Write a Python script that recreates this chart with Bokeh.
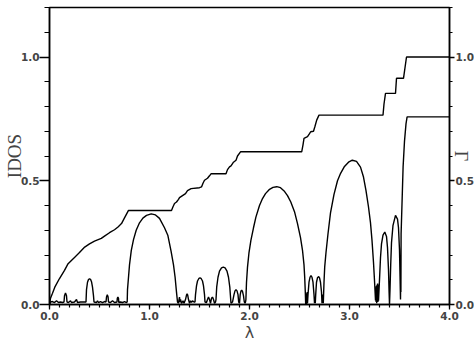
import math
from bokeh.plotting import figure
from bokeh.models import LinearAxis, SingleIntervalTicker, PrintfTickFormatter, Range1d
from bokeh.embed import file_html
from bokeh.resources import INLINE

# IDOS (integrated density of states) vs lambda
idos_lam = [0.0, 0.01, 0.03, 0.053, 0.1, 0.15, 0.186, 0.25, 0.3, 0.352, 0.4, 0.45, 0.518,
            0.55, 0.6, 0.65, 0.685, 0.72, 0.75, 0.77, 0.79,
            1.22, 1.235, 1.25, 1.27, 1.29, 1.30, 1.33, 1.36, 1.38, 1.416, 1.50, 1.52, 1.535, 1.55,
            1.58, 1.60, 1.615, 1.765, 1.78, 1.80, 1.815, 1.84, 1.865, 1.88, 1.91,
            2.522, 2.535, 2.545, 2.58, 2.60, 2.612, 2.64, 2.655, 2.672, 2.695,
            3.335, 3.345, 3.36, 3.46, 3.47, 3.54, 3.57, 4.0]
idos_val = [0.0, 0.025, 0.045, 0.07, 0.105, 0.138, 0.165, 0.19, 0.21, 0.232, 0.245, 0.256, 0.267,
            0.276, 0.29, 0.302, 0.313, 0.327, 0.35, 0.365, 0.38,
            0.38, 0.395, 0.408, 0.414, 0.425, 0.432, 0.44, 0.448, 0.46, 0.468, 0.472, 0.475, 0.49, 0.502,
            0.51, 0.52, 0.528, 0.528, 0.545, 0.556, 0.56, 0.575, 0.583, 0.60, 0.617,
            0.617, 0.645, 0.671, 0.678, 0.69, 0.698, 0.70, 0.72, 0.745, 0.765,
            0.765, 0.81, 0.853, 0.853, 0.914, 0.914, 1.0, 1.0]

# Lyapunov exponent Gamma vs lambda
gam_lam = [0.0, 0.01, 0.03, 0.05, 0.07, 0.09, 0.11, 0.13, 0.145, 0.15, 0.16, 0.17, 0.175, 0.19,
           0.21, 0.22, 0.25, 0.27, 0.28, 0.31, 0.33, 0.365, 0.37, 0.38, 0.39, 0.40, 0.41, 0.42,
           0.43, 0.44, 0.445, 0.47, 0.48, 0.49, 0.51, 0.53, 0.55, 0.565, 0.57, 0.578, 0.586, 0.59,
           0.61, 0.63, 0.65, 0.675, 0.678, 0.684, 0.69, 0.693, 0.71, 0.73, 0.75, 0.77, 0.777,
           0.78, 0.79, 0.80, 0.818, 0.84, 0.867, 0.90, 0.934, 0.97, 1.017, 1.06, 1.10, 1.15,
           1.183, 1.216, 1.24, 1.256, 1.27, 1.28,
           1.29, 1.295, 1.30, 1.305, 1.31, 1.32, 1.335, 1.345, 1.36, 1.37, 1.376, 1.382, 1.39,
           1.40, 1.41, 1.42, 1.43, 1.445, 1.455,
           1.46, 1.47, 1.48, 1.495, 1.505, 1.515, 1.53, 1.54, 1.55, 1.555,
           1.57, 1.58, 1.59, 1.60, 1.61, 1.62, 1.63, 1.64, 1.65, 1.66,
           1.665, 1.672, 1.685, 1.70, 1.72, 1.738, 1.756, 1.775, 1.79, 1.803, 1.812, 1.815,
           1.83, 1.845, 1.855, 1.865, 1.875, 1.885, 1.892, 1.90, 1.907, 1.915, 1.922, 1.93,
           1.94, 1.948, 1.955, 1.96,
           1.964, 1.97, 1.98, 1.995, 2.014, 2.04, 2.064, 2.10, 2.13, 2.16, 2.196, 2.235, 2.273,
           2.31, 2.346, 2.38, 2.413, 2.45, 2.48, 2.51, 2.53, 2.545, 2.552, 2.558, 2.562,
           2.565, 2.568, 2.571, 2.574, 2.577, 2.58,
           2.585, 2.595, 2.605, 2.615, 2.625, 2.635, 2.645, 2.65, 2.655, 2.658, 2.662, 2.67,
           2.68, 2.692, 2.70, 2.71, 2.72, 2.725, 2.728, 2.731, 2.735,
           2.738, 2.745, 2.752, 2.765, 2.785, 2.81, 2.845, 2.88, 2.911, 2.95, 2.99, 3.028, 3.07,
           3.11, 3.14, 3.165, 3.19, 3.21, 3.225, 3.24, 3.25, 3.26,
           3.263, 3.266, 3.269, 3.272, 3.275, 3.278, 3.281, 3.284, 3.287, 3.29,
           3.30, 3.31, 3.32, 3.335, 3.353, 3.37, 3.38, 3.39, 3.396, 3.40,
           3.405, 3.412, 3.42, 3.435, 3.46, 3.48, 3.49, 3.50, 3.505, 3.51,
           3.512, 3.514, 3.516, 3.526, 3.536, 3.55, 3.565, 3.576, 4.0]
gam_val = [0.0, 0.01, 0.012, 0.008, 0.015, 0.008, 0.01, 0.008, 0.01, 0.035, 0.046, 0.035, 0.01, 0.008,
           0.015, 0.008, 0.01, 0.02, 0.008, 0.01, 0.01, 0.01, 0.06, 0.09, 0.101, 0.104, 0.102, 0.092,
           0.07, 0.035, 0.01, 0.008, 0.015, 0.008, 0.012, 0.008, 0.012, 0.01, 0.03, 0.039, 0.03, 0.01,
           0.008, 0.015, 0.008, 0.01, 0.025, 0.03, 0.025, 0.008, 0.01, 0.008, 0.012, 0.008, 0.01,
           0.06, 0.11, 0.16, 0.219, 0.262, 0.30, 0.33, 0.349, 0.36, 0.366, 0.362, 0.348, 0.31,
           0.28, 0.215, 0.16, 0.11, 0.05, 0.01,
           0.005, 0.02, 0.03, 0.01, 0.02, 0.005, 0.015, 0.005, 0.02, 0.038, 0.043, 0.038, 0.02,
           0.005, 0.015, 0.008, 0.015, 0.01, 0.01,
           0.04, 0.075, 0.095, 0.106, 0.108, 0.106, 0.095, 0.075, 0.04, 0.01,
           0.008, 0.02, 0.03, 0.02, 0.005, 0.025, 0.03, 0.02, 0.005, 0.01,
           0.02, 0.07, 0.11, 0.135, 0.148, 0.151, 0.148, 0.135, 0.11, 0.07, 0.02, 0.005,
           0.01, 0.04, 0.055, 0.06, 0.055, 0.04, 0.01, 0.005, 0.04, 0.055, 0.058, 0.053,
           0.035, 0.01, 0.005, 0.01,
           0.02, 0.09, 0.151, 0.21, 0.259, 0.31, 0.353, 0.40, 0.428, 0.448, 0.464, 0.473, 0.476,
           0.472, 0.459, 0.44, 0.414, 0.375, 0.327, 0.27, 0.219, 0.16, 0.11, 0.05, 0.0,
           0.04, 0.002, 0.045, 0.003, 0.05, 0.005,
           0.04, 0.09, 0.11, 0.117, 0.11, 0.09, 0.04, 0.005, 0.03, 0.005, 0.04, 0.09,
           0.108, 0.113, 0.108, 0.09, 0.05, 0.005, 0.04, 0.005, 0.03,
           0.005, 0.09, 0.151, 0.21, 0.286, 0.37, 0.445, 0.50, 0.53, 0.558, 0.575, 0.583, 0.578,
           0.555, 0.515, 0.46, 0.394, 0.33, 0.259, 0.17, 0.097, 0.016,
           0.07, 0.01, 0.075, 0.005, 0.08, 0.01, 0.085, 0.01, 0.08, 0.015,
           0.10, 0.19, 0.245, 0.28, 0.293, 0.275, 0.23, 0.14, 0.05, 0.0,
           0.06, 0.16, 0.25, 0.32, 0.36, 0.345, 0.31, 0.22, 0.12, 0.02,
           0.1, 0.05, 0.286, 0.42, 0.556, 0.66, 0.73, 0.758, 0.758]

x_ticks_interval = 1.0
y_ticks_interval = 0.5

p = figure(width=474, height=352, output_backend="svg", toolbar_location=None,
           x_range=Range1d(0, 4), y_range=Range1d(0, 1.2),
           min_border_left=48, min_border_right=25, min_border_top=7, min_border_bottom=48)
p.background_fill_color = "white"
p.border_fill_color = "white"
p.outline_line_color = "black"
p.outline_line_width = 1.5
p.xgrid.visible = False
p.ygrid.visible = False

p.line(idos_lam, idos_val, line_color="black", line_width=1.4)
p.line(gam_lam, gam_val, line_color="black", line_width=1.4)

tick_font = "DejaVu Sans"

xa = p.xaxis[0]
xa.ticker = SingleIntervalTicker(interval=x_ticks_interval, num_minor_ticks=10)
xa.formatter = PrintfTickFormatter(format="%.1f")
xa.axis_label = "λ"
xa.axis_label_text_font = "DejaVu Sans"
xa.axis_label_text_font_style = "normal"
xa.axis_label_text_font_size = "16px"
xa.axis_label_standoff = 0
xa.major_label_text_font = tick_font
xa.major_label_text_font_style = "bold"
xa.major_label_text_font_size = "10.5px"
xa.major_label_standoff = 2
xa.major_tick_out = 5
xa.major_tick_in = 0
xa.minor_tick_out = 3
xa.minor_tick_in = 0
xa.axis_line_width = 1.5
xa.major_tick_line_width = 1.3
xa.minor_tick_line_width = 1.2

ya = p.yaxis[0]
ya.ticker = SingleIntervalTicker(interval=y_ticks_interval, num_minor_ticks=5)
ya.formatter = PrintfTickFormatter(format="%.1f")
ya.axis_label = "IDOS"
ya.axis_label_text_font = "Liberation Serif"
ya.axis_label_text_font_style = "normal"
ya.axis_label_text_font_size = "19px"
ya.axis_label_standoff = -7
ya.major_label_text_font = tick_font
ya.major_label_text_font_style = "bold"
ya.major_label_text_font_size = "10.5px"
ya.major_label_standoff = 0
ya.major_tick_out = 10
ya.major_tick_in = 0
ya.minor_tick_out = 5
ya.minor_tick_in = 0
ya.axis_line_width = 1.5
ya.major_tick_line_width = 1.3
ya.minor_tick_line_width = 1.2

ra = LinearAxis(ticker=SingleIntervalTicker(interval=y_ticks_interval, num_minor_ticks=5),
                formatter=PrintfTickFormatter(format="%.1f"))
ra.major_label_text_font = tick_font
ra.major_label_text_font_style = "bold"
ra.major_label_text_font_size = "10.5px"
ra.major_label_standoff = 1
ra.major_tick_out = 5
ra.major_tick_in = 0
ra.minor_tick_out = 3
ra.minor_tick_in = 0
ra.axis_line_width = 1.5
ra.major_tick_line_width = 1.3
ra.minor_tick_line_width = 1.2
ra.axis_label = "Γ"
ra.axis_label_text_font = "Liberation Serif"
ra.axis_label_text_font_style = "normal"
ra.axis_label_text_font_size = "18px"
ra.axis_label_standoff = -26
p.add_layout(ra, "right")

open("out.html", "w").write(file_html(p, INLINE))
